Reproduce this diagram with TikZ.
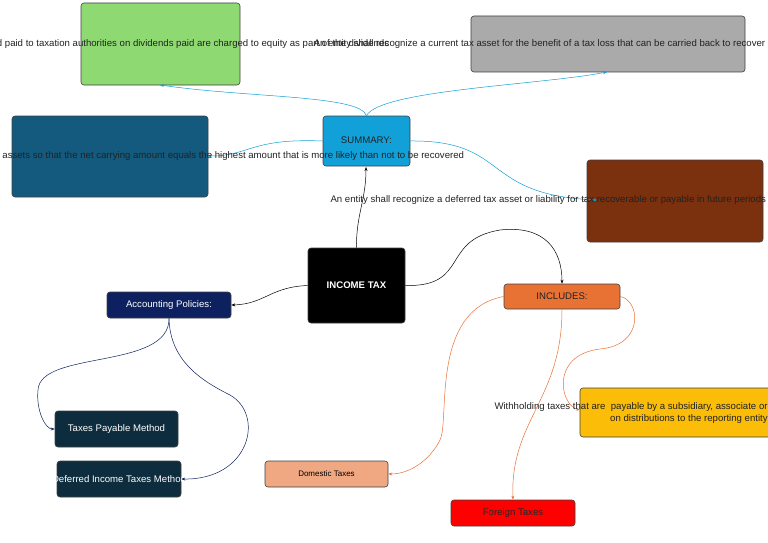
\documentclass[tikz,border=0pt]{standalone}
\usepackage{fontspec}
\setmainfont{Liberation Sans}
\usetikzlibrary{arrows.meta}
\definecolor{cgreen}{HTML}{8FD973}
\definecolor{cgray}{HTML}{AAAAAA}
\definecolor{csum}{HTML}{11A0D8}
\definecolor{cdblue}{HTML}{135A7E}
\definecolor{cbrown}{HTML}{7B300E}
\definecolor{cacc}{HTML}{0D2160}
\definecolor{cinc}{HTML}{E87234}
\definecolor{cmeth}{HTML}{0D2D3E}
\definecolor{cdom}{HTML}{F0A882}
\definecolor{cyel}{HTML}{FBBD08}
\definecolor{ctext}{HTML}{222222}
\begin{document}
\begin{tikzpicture}[x=1pt,y=-1pt,
  box/.style={draw=black!75,rounded corners=3pt,line width=0.6pt,minimum width=#1,inner sep=0pt},
  txt/.style={font=\fontsize{9.6}{12}\selectfont,text=ctext},
  wtxt/.style={font=\fontsize{9.6}{12}\selectfont,text=white},
  blue/.style={draw=csum,-{Stealth[length=4pt]},line width=0.5pt},
  blk/.style={draw=black,-{Stealth[length=4pt]},line width=0.5pt},
  nav/.style={draw=cacc,-{Stealth[length=4pt]},line width=0.5pt},
  org/.style={draw=cinc,-{Stealth[length=4pt]},line width=0.5pt}]
\useasboundingbox (0,0) rectangle (768,543);
\clip (0,0) rectangle (768,543);
% boxes
\node[box=159pt,minimum height=82pt,fill=cgreen] (green) at (160.5,44) {};
\node[box=274pt,minimum height=56pt,fill=cgray] (gray) at (608,44) {};
\node[box=87pt,minimum height=50pt,fill=csum,txt] (sum) at (366.5,141) {};
\node[txt] at (366.5,140) {SUMMARY:};
\node[box=196pt,minimum height=81pt,fill=cdblue] (dblue) at (110,156.5) {};
\node[box=176pt,minimum height=82pt,fill=cbrown] (brown) at (675,201) {};
\node[box=97pt,minimum height=75pt,fill=black,text=white,font=\fontsize{9.6}{12}\selectfont\bfseries] (inc) at (356.5,285.5) {INCOME TAX};
\node[box=124pt,minimum height=26pt,fill=cacc,wtxt] (acc) at (169,305) {Accounting Policies:};
\node[box=116pt,minimum height=25pt,fill=cinc,txt] (incl) at (562,296.5) {INCLUDES:};
\node[box=123pt,minimum height=36pt,fill=cmeth,wtxt] (tpm) at (116.5,429) {Taxes Payable Method};
\node[box=124pt,minimum height=36pt,fill=cmeth] (dit) at (119,479) {};
\begin{scope}
\clip (dit.south west) rectangle (dit.north east);
\node[wtxt] at (dit.center) {Deferred Income Taxes Method};
\end{scope}
\node[box=123pt,minimum height=26pt,fill=cdom,font=\fontsize{8}{10}\selectfont] (dom) at (326.5,474) {Domestic Taxes};
\node[box=124pt,minimum height=26pt,fill=red,txt,text=black!85] (for) at (513,513) {Foreign Taxes};
\node[box=220pt,minimum height=49pt,fill=cyel] (yel) at (690,412.5) {};
% connectors
\draw[blue] (sum.north) .. controls (360,95) and (250,98) .. (160,85);
\draw[blue] (sum.north) .. controls (380,90) and (540,85) .. (607,72);
\draw[blue] (sum.west) .. controls (250,138) and (250,156) .. (208,156);
\draw[blue] (sum.east) .. controls (510,140) and (480,195) .. (597,200);
\draw[blk] (inc.north) .. controls (356,215) and (366,200) .. (366,167);
\draw[blk] (inc.west) .. controls (270,287) and (265,304) .. (acc.east);
\draw[blk] (inc.east) .. controls (470,287) and (440,240) .. (500,230) .. controls (545,225) and (562,250) .. (incl.north);
\draw[nav] (acc.south) .. controls (170,370) and (40,350) .. (38,390) .. controls (36,410) and (45,429) .. (tpm.west);
\draw[nav] (acc.south) .. controls (170,360) and (200,380) .. (230,395) .. controls (265,415) and (250,480) .. (dit.east);
\draw[org] (incl.west) .. controls (430,310) and (450,420) .. (440,440) .. controls (430,460) and (410,474) .. (dom.east);
\draw[org] (incl.south) .. controls (562,400) and (510,420) .. (for.north);
\draw[org] (incl.east) .. controls (640,300) and (645,345) .. (600,349) .. controls (550,355) and (560,405) .. (580,410);
% long texts
\node[txt] at (160,44) {Tax withheld and paid to taxation authorities on dividends paid are charged to equity as part of the dividends};
\node[txt] at (607,44) {An entity shall recognize a current tax asset for the benefit of a tax loss that can be carried back to recover current tax of a previous period};
\node[txt] at (110,156) {An entity shall reduce the carrying amount of deferred tax assets so that the net carrying amount equals the highest amount that is more likely than not to be recovered};
\node[txt,anchor=west] at (327,200) {An entity shall recognize a deferred tax asset or liability for tax recoverable or payable in future periods};
\node[txt,align=center,anchor=north west] at (491,399) {Withholding taxes that are\ \ payable by a subsidiary, associate or joint venture\\\phantom{Withholding ta}on distributions to the reporting entity};
\end{tikzpicture}
\end{document}
